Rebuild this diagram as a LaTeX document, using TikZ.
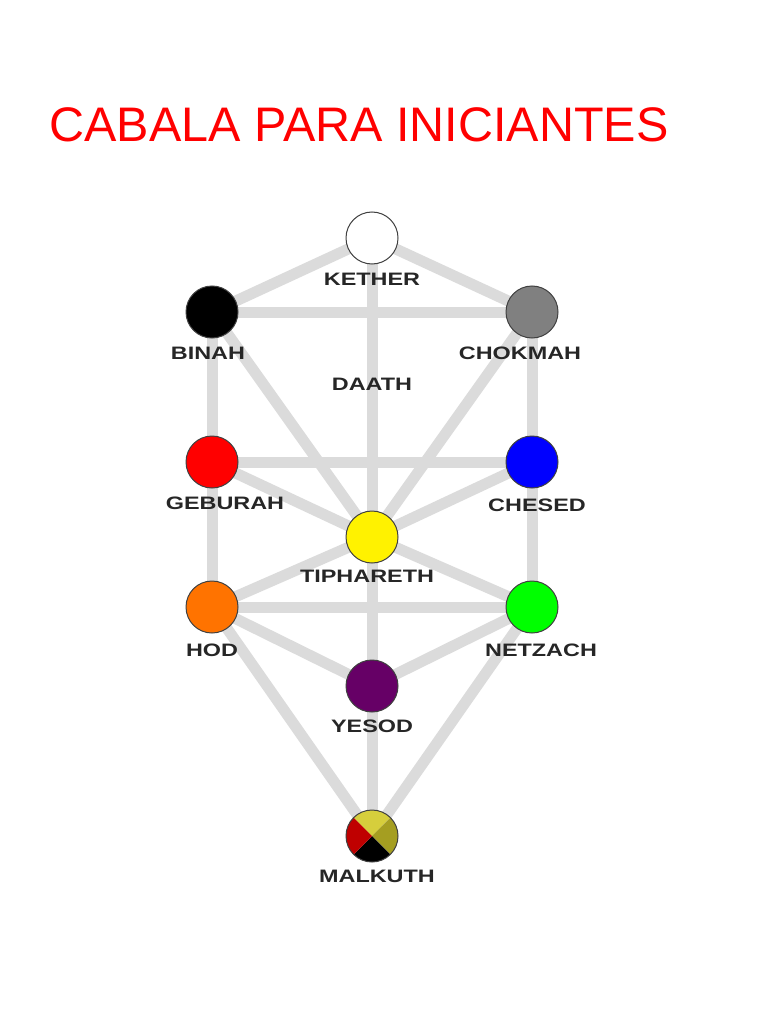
\documentclass[tikz,border=0pt]{standalone}
\usepackage{fontspec}
\setmainfont{Liberation Sans}
\begin{document}
\begin{tikzpicture}[x=1pt,y=-1pt,
  path/.style={draw=black!14,line width=11pt},
  sef/.style={circle,draw=black!75,line width=1pt,minimum size=52pt,inner sep=0pt},
  lab/.style={font=\bfseries\fontsize{18}{18}\selectfont,text=black!85,xscale=1.3}]
\useasboundingbox[fill=white] (0,0) rectangle (768,1024);
\node[text=red,font=\fontsize{48.5}{48.5}\selectfont,anchor=base west] (title) at (46,142) {CABALA PARA INICIANTES};
\coordinate (K) at (372,238);
\coordinate (B) at (212,312);
\coordinate (C) at (532,312);
\coordinate (G) at (212,462);
\coordinate (Ch) at (532,462);
\coordinate (T) at (372,537);
\coordinate (H) at (212,607);
\coordinate (N) at (532,607);
\coordinate (Y) at (372,686);
\coordinate (M) at (372,836);
\foreach \a/\b in {K/B,K/C,B/C,K/T,B/G,C/Ch,B/T,C/T,G/Ch,G/T,Ch/T,G/H,Ch/N,T/H,T/N,H/N,H/Y,N/Y,T/Y,Y/M,H/M,N/M}
  \draw[path] (\a) -- (\b);
\node[sef,fill=white] (kether) at (K) {};
\node[sef,fill=black] (binah) at (B) {};
\node[sef,fill=black!50] (chokmah) at (C) {};
\node[sef,fill=red] (geburah) at (G) {};
\node[sef,fill=blue] (chesed) at (Ch) {};
\node[sef,fill=yellow] (tiphareth) at (T) {};
\node[sef,fill=orange!90!red] (hod) at (H) {};
\node[sef,fill=green] (netzach) at (N) {};
\node[sef,fill=violet!80!black] (yesod) at (Y) {};
\begin{scope}[shift={(M)}]
\fill[yellow!80!black!90] (0,0) -- (-18.4,-18.4) arc[start angle=225,end angle=315,radius=26] -- cycle;
\fill[olive!80!white] (0,0) -- (18.4,-18.4) arc[start angle=315,end angle=405,radius=26] -- cycle;
\fill[black] (0,0) -- (18.4,18.4) arc[start angle=45,end angle=135,radius=26] -- cycle;
\fill[red!75!black] (0,0) -- (-18.4,18.4) arc[start angle=135,end angle=225,radius=26] -- cycle;
\end{scope}
\node[sef] (malkuth) at (M) {};
\node[lab] at (372,279) {KETHER};
\node[lab] at (208,353) {BINAH};
\node[lab] at (520,353) {CHOKMAH};
\node[lab] at (372,384) {DAATH};
\node[lab] at (225,503) {GEBURAH};
\node[lab] at (537,505) {CHESED};
\node[lab] at (367,576) {TIPHARETH};
\node[lab] at (212,650) {HOD};
\node[lab] at (541,650) {NETZACH};
\node[lab] at (372,726) {YESOD};
\node[lab] at (377,876) {MALKUTH};
\end{tikzpicture}
\end{document}
